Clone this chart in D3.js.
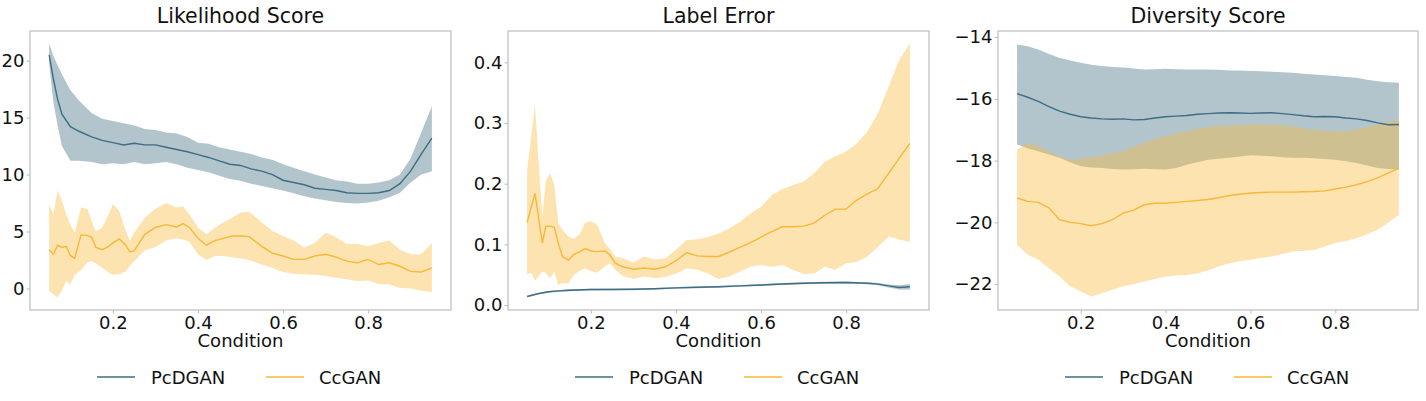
<!DOCTYPE html>
<html lang="en">
<head>
    <meta charset="utf-8">
    <title>PcDGAN vs CcGAN</title>
    <script src="https://d3js.org/d3.v7.min.js"></script>
    <style>
        body { margin: 0; background: #fff; }
        svg { display: block; font-family: "DejaVu Sans", sans-serif; }
    </style>
</head>
<body>
    <script type="text/javascript">
        // ---- Likelihood Score ----
        var likePcdX = [0.05,0.06,0.07,0.08,0.1,0.12,0.15,0.175,0.2,0.225,0.25,0.275,0.3,0.325,0.35,0.375,0.4,0.425,0.45,0.475,0.5,0.525,0.55,0.575,0.6,0.625,0.65,0.675,0.7,0.725,0.75,0.775,0.8,0.825,0.85,0.875,0.9,0.925,0.95];
        var likePcdMean = [20.5,18.4,16.6,15.3,14.2,13.8,13.3,13.0,12.8,12.6,12.75,12.6,12.6,12.4,12.2,12.0,11.75,11.5,11.2,10.9,10.8,10.5,10.3,10.0,9.5,9.3,9.1,8.8,8.7,8.6,8.4,8.35,8.35,8.4,8.6,9.2,10.3,11.8,13.2];
        var likePcdHi = [21.5,20.4,19.6,18.8,17.4,16.5,15.4,14.9,14.7,14.5,14.3,14.0,13.9,13.7,13.6,13.3,12.8,12.7,12.4,12.2,12.0,11.8,11.5,11.3,10.9,10.6,10.3,10.0,9.75,9.5,9.4,9.2,9.2,9.3,9.5,10.0,11.4,13.7,16.0];
        var likePcdLo = [19.8,16.3,14.3,12.5,11.2,11.2,11.1,10.9,11.0,10.9,11.1,10.9,11.0,11.1,10.9,10.6,10.4,10.2,9.9,9.6,9.45,9.2,9.0,8.8,8.6,8.35,8.1,7.9,7.75,7.6,7.5,7.45,7.55,7.7,8.0,8.4,9.3,10.0,10.3];

        var likeCcX = [0.05,0.06,0.07,0.08,0.09,0.1,0.11,0.125,0.14,0.15,0.16,0.175,0.19,0.2,0.215,0.23,0.24,0.25,0.275,0.3,0.325,0.35,0.365,0.38,0.4,0.42,0.44,0.46,0.48,0.5,0.52,0.55,0.575,0.6,0.625,0.65,0.675,0.7,0.725,0.75,0.775,0.8,0.825,0.85,0.875,0.9,0.925,0.95];
        var likeCcMean = [3.4,3.0,3.8,3.6,3.7,2.9,2.65,4.7,4.65,4.5,3.6,3.4,3.7,4.0,4.35,3.8,3.2,3.3,4.75,5.35,5.6,5.4,5.7,5.35,4.4,3.8,4.2,4.4,4.6,4.6,4.55,3.7,3.1,2.85,2.55,2.55,2.85,3.0,2.75,2.4,2.25,2.55,2.1,2.25,1.95,1.5,1.45,1.8];
        var likeCcHi = [7.4,6.5,8.6,7.7,6.5,5.6,4.9,7.1,7.0,5.9,5.0,5.35,6.5,7.4,6.8,5.05,4.2,4.9,6.2,7.0,7.5,7.1,7.2,6.5,5.35,4.75,5.35,5.8,6.2,6.65,6.75,5.8,5.05,4.6,4.2,3.6,4.0,4.9,4.5,3.9,3.9,3.7,4.0,4.2,3.4,3.0,3.0,4.0];
        var likeCcLo = [-0.2,-0.5,-0.8,-0.2,0.65,0.35,1.2,1.6,2.3,2.4,2.2,1.8,1.4,1.2,1.25,1.5,2.0,2.4,3.35,3.65,4.2,4.4,4.3,4.1,3.0,2.5,2.85,2.85,2.75,2.65,2.5,2.1,1.8,1.45,1.3,1.25,1.2,1.1,0.95,0.8,0.65,0.7,0.4,0.35,0.05,0.0,-0.2,-0.3];

        // ---- Label Error ----
        var errPcdX = [0.05,0.075,0.1,0.125,0.15,0.2,0.25,0.3,0.35,0.4,0.45,0.5,0.55,0.6,0.65,0.7,0.75,0.8,0.85,0.875,0.9,0.925,0.95];
        var errPcdMean = [0.014,0.0185,0.0218,0.0234,0.0244,0.0255,0.0257,0.0259,0.0268,0.0282,0.0292,0.0300,0.0315,0.0330,0.0346,0.0360,0.0368,0.0370,0.0360,0.0345,0.0315,0.0290,0.0300];
        var errPcdHi = [0.0152,0.0198,0.0233,0.0249,0.0259,0.0270,0.0271,0.0273,0.0282,0.0296,0.0306,0.0314,0.0330,0.0345,0.0362,0.0376,0.0384,0.0386,0.0377,0.0364,0.0340,0.0325,0.0345];
        var errPcdLo = [0.0128,0.0172,0.0203,0.0219,0.0229,0.0240,0.0243,0.0245,0.0254,0.0268,0.0278,0.0286,0.0300,0.0315,0.0330,0.0344,0.0352,0.0354,0.0343,0.0326,0.0290,0.0255,0.0250];

        var errCcX = [0.05,0.06,0.0685,0.077,0.0857,0.094,0.104,0.114,0.123,0.133,0.147,0.159,0.175,0.186,0.2,0.215,0.233,0.245,0.257,0.275,0.3,0.325,0.35,0.375,0.4,0.425,0.45,0.475,0.5,0.525,0.55,0.575,0.6,0.625,0.65,0.675,0.7,0.725,0.75,0.775,0.8,0.825,0.85,0.875,0.9,0.925,0.95];
        var errCcMean = [0.136,0.162,0.184,0.143,0.102,0.130,0.130,0.128,0.102,0.080,0.074,0.083,0.088,0.093,0.089,0.088,0.089,0.082,0.069,0.063,0.059,0.061,0.059,0.063,0.073,0.086,0.081,0.080,0.080,0.087,0.095,0.103,0.112,0.121,0.129,0.129,0.130,0.135,0.148,0.158,0.158,0.173,0.183,0.192,0.217,0.242,0.266];
        var errCcHi = [0.222,0.280,0.330,0.235,0.146,0.205,0.217,0.198,0.135,0.124,0.113,0.109,0.118,0.135,0.138,0.132,0.102,0.092,0.080,0.077,0.070,0.080,0.075,0.077,0.091,0.107,0.108,0.112,0.118,0.126,0.137,0.151,0.162,0.181,0.191,0.198,0.203,0.217,0.236,0.245,0.253,0.266,0.286,0.316,0.360,0.404,0.431];
        var errCcLo = [0.050,0.053,0.040,0.048,0.055,0.053,0.044,0.055,0.033,0.036,0.036,0.049,0.057,0.060,0.056,0.053,0.064,0.069,0.058,0.048,0.043,0.047,0.044,0.046,0.052,0.060,0.058,0.052,0.043,0.047,0.055,0.063,0.066,0.063,0.066,0.058,0.051,0.052,0.063,0.058,0.069,0.071,0.080,0.096,0.113,0.108,0.104];

        // ---- Diversity Score ----
        var divX = [0.05,0.075,0.1,0.125,0.15,0.175,0.2,0.225,0.25,0.275,0.3,0.325,0.35,0.375,0.4,0.425,0.45,0.475,0.5,0.525,0.55,0.575,0.6,0.625,0.65,0.675,0.7,0.725,0.75,0.775,0.8,0.825,0.85,0.875,0.9,0.925,0.95];
        var divPcdMean = [-15.83,-15.95,-16.08,-16.25,-16.4,-16.5,-16.58,-16.62,-16.65,-16.66,-16.65,-16.68,-16.67,-16.62,-16.58,-16.56,-16.54,-16.5,-16.48,-16.46,-16.45,-16.46,-16.47,-16.46,-16.45,-16.48,-16.51,-16.55,-16.58,-16.57,-16.58,-16.62,-16.65,-16.7,-16.78,-16.84,-16.83];
        var divPcdHi = [-14.24,-14.3,-14.4,-14.55,-14.67,-14.76,-14.83,-14.9,-14.94,-14.97,-14.99,-15.02,-15.05,-15.04,-15.03,-15.04,-15.05,-15.05,-15.05,-15.06,-15.08,-15.08,-15.1,-15.11,-15.12,-15.14,-15.16,-15.19,-15.21,-15.24,-15.26,-15.29,-15.32,-15.38,-15.43,-15.46,-15.48];
        var divPcdLo = [-17.48,-17.6,-17.7,-17.8,-17.91,-18.05,-18.18,-18.22,-18.24,-18.27,-18.29,-18.28,-18.26,-18.28,-18.29,-18.24,-18.13,-18.05,-17.97,-17.94,-17.91,-17.87,-17.83,-17.84,-17.86,-17.89,-17.91,-17.91,-17.92,-17.95,-17.97,-18.02,-18.08,-18.16,-18.24,-18.27,-18.29];
        var divCcMean = [-19.21,-19.32,-19.35,-19.53,-19.91,-20.0,-20.04,-20.11,-20.04,-19.91,-19.7,-19.6,-19.43,-19.38,-19.38,-19.35,-19.32,-19.29,-19.26,-19.2,-19.13,-19.09,-19.05,-19.03,-19.02,-19.02,-19.02,-19.01,-19.0,-18.98,-18.92,-18.86,-18.78,-18.68,-18.56,-18.4,-18.24];
        var divCcHi = [-17.64,-17.42,-17.53,-17.7,-17.86,-17.97,-17.94,-17.9,-17.83,-17.76,-17.69,-17.55,-17.42,-17.3,-17.2,-17.12,-17.05,-16.98,-16.91,-16.89,-16.87,-16.85,-16.83,-16.83,-16.83,-16.86,-16.89,-16.95,-17.0,-17.03,-17.05,-17.03,-17.0,-16.92,-16.83,-16.75,-16.67];
        var divCcLo = [-20.72,-21.05,-21.21,-21.48,-21.75,-22.07,-22.24,-22.4,-22.29,-22.18,-22.07,-21.99,-21.91,-21.83,-21.75,-21.72,-21.7,-21.65,-21.55,-21.43,-21.32,-21.26,-21.21,-21.15,-21.1,-21.02,-20.94,-20.92,-20.89,-20.78,-20.67,-20.6,-20.51,-20.38,-20.24,-20.0,-19.75];

        var xTicks = [0.2, 0.4, 0.6, 0.8];
        var models = ["PcDGAN", "CcGAN"];
        var colors = { PcDGAN: "#3f6d82", CcGAN: "#f8b838" };

        function zip(x, mean, lo, hi) {
            return x.map(function(c, i) { return { x: c, m: mean[i], lo: lo[i], hi: hi[i] }; });
        }

        var panels = [
            { title: "Likelihood Score", left: 30, right: 451, yDomain: [-1.89, 22.6],
              yTicks: [0, 5, 10, 15, 20], fmt: d3.format("d"),
              series: [zip(likePcdX, likePcdMean, likePcdLo, likePcdHi), zip(likeCcX, likeCcMean, likeCcLo, likeCcHi)] },
            { title: "Label Error", left: 508, right: 929, yDomain: [-0.0082, 0.4516],
              yTicks: [0, 0.1, 0.2, 0.3, 0.4], fmt: d3.format(".1f"),
              series: [zip(errPcdX, errPcdMean, errPcdLo, errPcdHi), zip(errCcX, errCcMean, errCcLo, errCcHi)] },
            { title: "Diversity Score", left: 998, right: 1418, yDomain: [-22.835, -13.805],
              yTicks: [-22, -20, -18, -16, -14], fmt: d3.format("d"),
              series: [zip(divX, divPcdMean, divPcdLo, divPcdHi), zip(divX, divCcMean, divCcLo, divCcHi)] }
        ];

        var w = 1426, h = 401;
        var plotTop = 31, plotBottom = 310;
        var spine = "#bdbdbd";

        var svg = d3.select("body").append("svg")
            .attr("width", w)
            .attr("height", h);

        panels.forEach(function(p) {
            var x = d3.scaleLinear().domain([0.005, 0.995]).range([p.left, p.right]);
            var y = d3.scaleLinear().domain(p.yDomain).range([plotBottom, plotTop]);
            var g = svg.append("g");

            var area = d3.area()
                .x(function(d) { return x(d.x); })
                .y0(function(d) { return y(d.lo); })
                .y1(function(d) { return y(d.hi); });
            var line = d3.line()
                .x(function(d) { return x(d.x); })
                .y(function(d) { return y(d.m); });

            // bands first, then mean lines
            p.series.forEach(function(s, i) {
                g.append("path")
                    .attr("d", area(s))
                    .attr("fill", colors[models[i]])
                    .attr("fill-opacity", 0.4);
            });
            p.series.forEach(function(s, i) {
                g.append("path")
                    .attr("d", line(s))
                    .attr("fill", "none")
                    .attr("stroke", colors[models[i]])
                    .attr("stroke-width", 1.4);
            });

            // axes
            var xAxis = d3.axisBottom(x).tickValues(xTicks).tickFormat(d3.format(".1f"))
                .tickSize(3.5).tickPadding(3);
            var yAxis = d3.axisLeft(y).tickValues(p.yTicks).tickFormat(p.fmt)
                .tickSize(3.5).tickPadding(2);

            var gx = g.append("g").attr("transform", "translate(0," + plotBottom + ")").call(xAxis);
            var gy = g.append("g").attr("transform", "translate(" + p.left + ",0)").call(yAxis);
            [gx, gy].forEach(function(a) {
                a.select(".domain").remove();
                a.selectAll(".tick line").attr("stroke", spine);
                a.selectAll(".tick text")
                    .attr("font-family", "DejaVu Sans")
                    .attr("font-size", 18)
                    .attr("fill", "#111");
            });

            g.append("rect")
                .attr("x", p.left).attr("y", plotTop)
                .attr("width", p.right - p.left).attr("height", plotBottom - plotTop)
                .attr("fill", "none")
                .attr("stroke", spine)
                .attr("stroke-width", 1.2);

            var cx = (p.left + p.right) / 2;
            g.append("text")
                .attr("x", cx).attr("y", 23)
                .attr("text-anchor", "middle")
                .attr("font-size", 20.5)
                .attr("fill", "#111")
                .text(p.title);

            g.append("text")
                .attr("x", cx).attr("y", 347)
                .attr("text-anchor", "middle")
                .attr("font-size", 18)
                .attr("fill", "#111")
                .text("Condition");

            // legend
            var legendPos = [{ l0: 67, l1: 105, t: 121 }, { l0: 236, l1: 274, t: 289 }];
            models.forEach(function(m, i) {
                var lp = legendPos[i];
                g.append("line")
                    .attr("x1", p.left + lp.l0).attr("x2", p.left + lp.l1)
                    .attr("y1", 377).attr("y2", 377)
                    .attr("stroke", colors[m])
                    .attr("stroke-width", 1.5);
                g.append("text")
                    .attr("x", p.left + lp.t).attr("y", 383.5)
                    .attr("font-size", 18)
                    .attr("fill", "#111")
                    .text(m);
            });
        });
    </script>
</body>
</html>
